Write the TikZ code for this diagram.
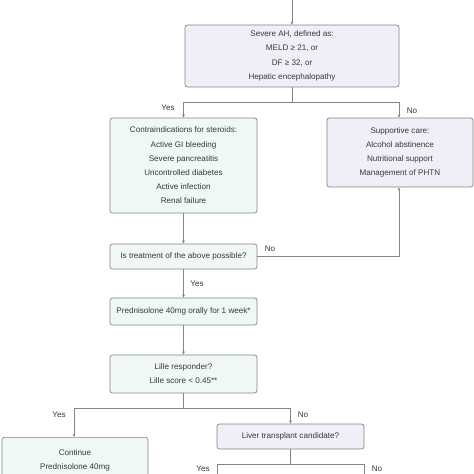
\documentclass[tikz,border=0pt]{standalone}
\usepackage{fontspec}
\setmainfont{Liberation Sans}
\usetikzlibrary{arrows.meta}
\definecolor{lav}{HTML}{F1EEF7}
\definecolor{mint}{HTML}{EFF8F5}
\definecolor{edge}{HTML}{858585}
\definecolor{txt}{HTML}{383838}
\tikzset{
  box/.style={draw=edge, line width=0.7pt, rounded corners=2.5pt, align=center, text=txt,
    font=\fontsize{8.1}{14.2}\selectfont, inner sep=0pt},
  lavbox/.style={box, fill=lav},
  mintbox/.style={box, fill=mint},
  conn/.style={draw=edge, line width=0.7pt},
  arr/.style={conn, -{Stealth[length=3.2pt,width=2.8pt]}},
  lbl/.style={text=txt, font=\fontsize{8.1}{9}\selectfont, inner sep=0pt}
}
\begin{document}
\begin{tikzpicture}[x=1pt,y=-1pt]
\useasboundingbox (0,0) rectangle (474,474);
\clip (0,0) rectangle (474,474);
\fill[white] (0,0) rectangle (474,474);

\node[lavbox, minimum width=214pt, minimum height=62pt] (sev) at (292,56)
  {Severe AH, defined as:\\MELD ≥ 21, or\\DF ≥ 32, or\\Hepatic encephalopathy};
\node[mintbox, minimum width=147pt, minimum height=95pt] (contra) at (183.5,165.5)
  {Contraindications for steroids:\\Active GI bleeding\\Severe pancreatitis\\Uncontrolled diabetes\\Active infection\\Renal failure};
\node[lavbox, minimum width=146pt, minimum height=69pt] (supp) at (400,152.5)
  {Supportive care:\\Alcohol abstinence\\Nutritional support\\Management of PHTN};
\node[mintbox, minimum width=147pt, minimum height=25pt] (treat) at (183.5,256.5)
  {Is treatment of the above possible?};
\node[mintbox, minimum width=147pt, minimum height=27pt] (pred) at (183.5,311.5)
  {Prednisolone 40mg orally for 1 week*};
\node[mintbox, minimum width=147pt, minimum height=38pt] (lille) at (183.5,374)
  {Lille responder?\\Lille score < 0.45**};
\node[mintbox, minimum width=146pt, minimum height=80pt, anchor=north] (cont) at (75,437)
  {Continue\\Prednisolone 40mg\\[22pt]};
\node[lavbox, minimum width=147pt, minimum height=25pt] (liver) at (290.5,436.5)
  {Liver transplant candidate?};

\coordinate (top) at (292,0);
\coordinate (s1) at (292,102);
\coordinate (s1l) at (183.5,102);
\coordinate (s1r) at (399,102);
\coordinate (tr) at (399,256.5);
\coordinate (s2) at (183.5,408);
\coordinate (s2l) at (74,408);
\coordinate (s2r) at (290.5,408);
\coordinate (s3) at (290.5,464);
\coordinate (s3l) at (217,464);
\coordinate (s3r) at (364,464);
\coordinate (e3l) at (217,490);
\coordinate (e3r) at (364,490);

\draw[arr] (top) -- (sev.north);
\draw[conn] (sev.south) -- (s1);
\draw[conn] (s1l) -- (s1r);
\draw[arr] (s1l) -- (contra.north);
\draw[arr] (s1r) -- (s1r |- supp.north);
\draw[arr] (contra.south) -- (treat.north);
\draw[arr] (treat.east) -- (tr) -- (tr |- supp.south);
\draw[arr] (treat.south) -- (pred.north);
\draw[arr] (pred.south) -- (lille.north);
\draw[conn] (lille.south) -- (s2);
\draw[conn] (s2l) -- (s2r);
\draw[arr] (s2l) -- (s2l |- cont.north);
\draw[arr] (s2r) -- (liver.north);
\draw[conn] (liver.south) -- (s3);
\draw[conn] (e3l) -- (s3l) -- (s3r) -- (e3r);

\node[lbl] at (168,108) {Yes};
\node[lbl] at (412,111) {No};
\node[lbl] at (270,249) {No};
\node[lbl] at (197,284) {Yes};
\node[lbl] at (59,415) {Yes};
\node[lbl] at (303,415) {No};
\node[lbl] at (203,469) {Yes};
\node[lbl] at (377,469) {No};
\end{tikzpicture}
\end{document}
